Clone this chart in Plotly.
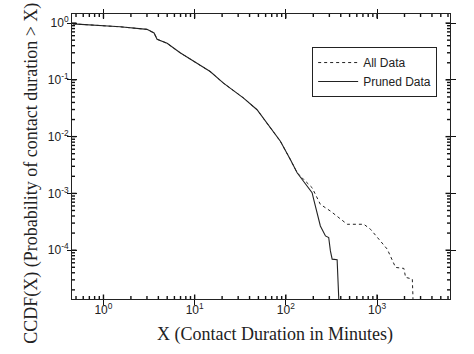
import math
import plotly.graph_objects as go

# Shared part of the CCDF (both series coincide up to ~110 min)
shared_x = [0.46, 0.92, 1.52, 3.0, 3.59, 3.87, 4.99, 6.93, 13.7, 14.8, 20.7, 34.4, 48.3, 67.6, 87.1, 112, 133]
shared_y = [0.97, 0.92, 0.86, 0.775, 0.67, 0.52, 0.44, 0.30, 0.156, 0.14, 0.0875, 0.0478, 0.0298, 0.0142, 0.00828, 0.00395, 0.00231]

pruned_tail_x = [151, 194, 202, 220, 239, 272, 295, 308, 322, 365, 371, 380, 382]
pruned_tail_y = [0.00176, 0.00103, 7.85e-4, 4.58e-4, 2.67e-4, 1.78e-4, 1.67e-4, 9.7e-5, 6.95e-5, 6.8e-5, 3.32e-5, 1.69e-5, 1.2e-5]

all_tail_x = [157, 194, 239, 308, 471, 717, 849, 1005, 1295, 1596, 1971, 2056, 2437, 2474, 2480]
all_tail_y = [0.00176, 0.00126, 6.41e-4, 4.89e-4, 2.86e-4, 2.86e-4, 2.33e-4, 1.67e-4, 1.04e-4, 4.97e-5, 4.77e-5, 3.32e-5, 3.1e-5, 1.58e-5, 1.2e-5]

x_tickvals = [1, 10, 100, 1000]
x_ticktext = ["10<sup>0</sup>", "10<sup>1</sup>", "10<sup>2</sup>", "10<sup>3</sup>"]
y_tickvals = [1, 0.1, 0.01, 0.001, 0.0001]
y_ticktext = ["10<sup>0</sup>", "10<sup>-1</sup>", "10<sup>-2</sup>", "10<sup>-3</sup>", "10<sup>-4</sup>"]

X_RANGE = [-0.345, 3.8]
Y_RANGE = [-4.86, 0.16]
INK = "#222222"
TICK_INK = "#111111"

PLOT_W = 474 - 72 - 24
PLOT_H = 354 - 14 - 55
MAJOR_LEN = 4.5
MINOR_LEN = 3.0

fig = go.Figure()
fig.add_trace(go.Scatter(
    x=shared_x + all_tail_x, y=shared_y + all_tail_y, mode="lines", name="All Data",
    line=dict(color="#222222", width=1, dash="3px,3px"),
))
fig.add_trace(go.Scatter(
    x=shared_x + pruned_tail_x, y=shared_y + pruned_tail_y, mode="lines", name="Pruned Data",
    line=dict(color="#222222", width=1.1),
))

# Inside tick marks on all four sides (major + log minor), drawn against the log axes
# with a pixel-scaled linear overlay axis for the tick length direction.
def in_range(v, rng):
    return rng[0] < math.log10(v) < rng[1]

xt_x, xt_y = [], []
for n in range(-2, 5):
    for k in range(1, 10):
        v = k * 10.0 ** n
        if not in_range(v, X_RANGE):
            continue
        ln = MAJOR_LEN if k == 1 else MINOR_LEN
        xt_x += [v, v, None, v, v, None]
        xt_y += [0, ln, None, PLOT_H, PLOT_H - ln, None]

yt_x, yt_y = [], []
for n in range(-6, 2):
    for k in range(1, 10):
        v = k * 10.0 ** n
        if not in_range(v, Y_RANGE):
            continue
        ln = MAJOR_LEN if k == 1 else MINOR_LEN
        yt_x += [0, ln, None, PLOT_W, PLOT_W - ln, None]
        yt_y += [v, v, None, v, v, None]

fig.add_trace(go.Scatter(
    x=xt_x, y=xt_y, xaxis="x", yaxis="y3", mode="lines",
    line=dict(color=TICK_INK, width=1.4), showlegend=False, hoverinfo="skip", cliponaxis=False,
))
fig.add_trace(go.Scatter(
    x=yt_x, y=yt_y, xaxis="x3", yaxis="y", mode="lines",
    line=dict(color=TICK_INK, width=1.4), showlegend=False, hoverinfo="skip", cliponaxis=False,
))

tickfont = dict(family="Liberation Sans, Arial, sans-serif", size=12, color="#222222")

fig.update_layout(
    xaxis=dict(
        type="log", range=X_RANGE, tickmode="array", tickvals=x_tickvals, ticktext=x_ticktext,
        showgrid=False, zeroline=False, showline=True, linecolor=INK, linewidth=1,
        mirror="allticks", ticks="inside", ticklen=MAJOR_LEN, tickcolor=TICK_INK, tickwidth=1.4,
        tickfont=tickfont,
    ),
    yaxis=dict(
        type="log", range=Y_RANGE, tickmode="array", tickvals=y_tickvals, ticktext=y_ticktext,
        showgrid=False, zeroline=False, showline=True, linecolor=INK, linewidth=1,
        mirror="allticks", ticks="inside", ticklen=MAJOR_LEN, tickcolor=TICK_INK, tickwidth=1.4,
        tickfont=tickfont,
    ),
    xaxis3=dict(type="linear", range=[0, PLOT_W], overlaying="x", anchor="y",
                visible=False, fixedrange=True),
    yaxis3=dict(type="linear", range=[0, PLOT_H], overlaying="y", anchor="x",
                visible=False, fixedrange=True),
)

serif = "Liberation Serif, Times New Roman, serif"
fig.add_annotation(
    text="X (Contact Duration in Minutes)", xref="paper", yref="paper",
    x=0.537, y=-0.123, showarrow=False, xanchor="center", yanchor="middle",
    font=dict(family=serif, size=18, color="#222222"),
)
fig.add_annotation(
    text="CCDF(X) (Probability of contact duration > X)", xref="paper", yref="paper",
    x=-0.108, y=0.44, showarrow=False, textangle=-90, xanchor="center", yanchor="middle",
    font=dict(family=serif, size=18, color="#222222"),
)

fig.update_layout(
    width=474, height=354,
    margin=dict(l=72, r=24, t=14, b=55),
    paper_bgcolor="white", plot_bgcolor="white",
    showlegend=True,
    legend=dict(
        x=0.966, y=0.884, xanchor="right", yanchor="top",
        bgcolor="white", bordercolor=INK, borderwidth=1,
        font=dict(family="Liberation Sans, Arial, sans-serif", size=12, color="#222222"),
        tracegroupgap=0, itemwidth=40,
    ),
)

fig.write_html("out.html")
